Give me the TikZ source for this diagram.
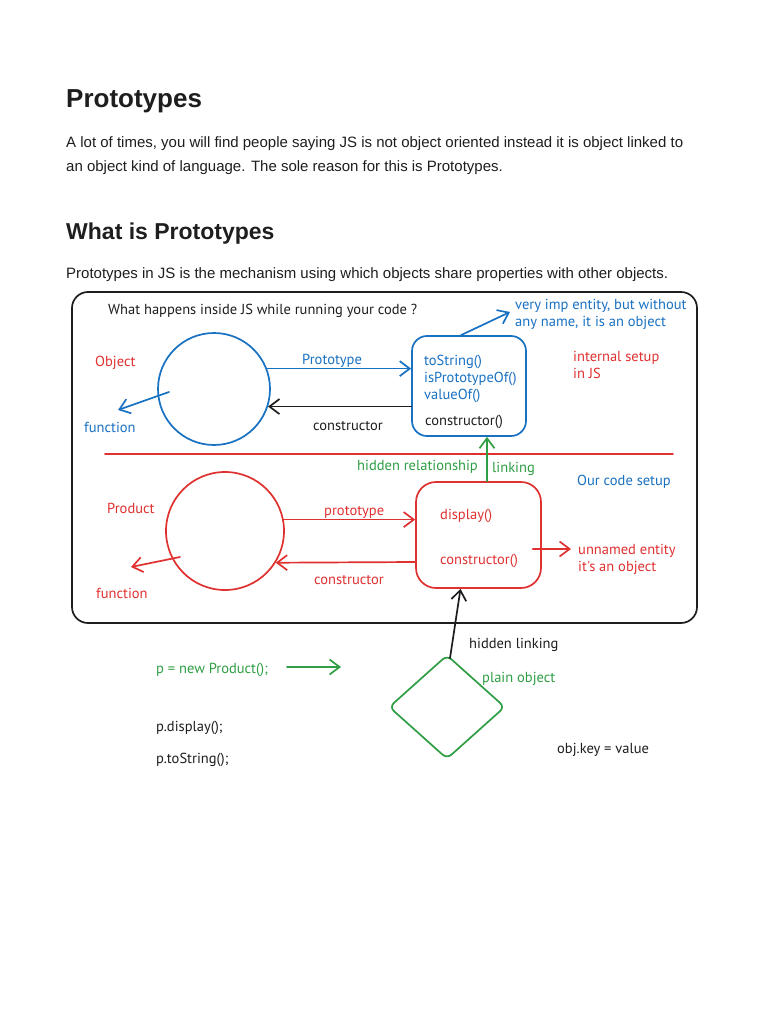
\documentclass[tikz,border=0pt]{standalone}
\usepackage{fontspec}
\setmainfont{Liberation Sans}
\newfontfamily\hand{PT Sans}
\usetikzlibrary{arrows.meta,shapes.geometric,calc}
\definecolor{exblue}{HTML}{1971C2}
\definecolor{exred}{HTML}{E03131}
\definecolor{exgreen}{HTML}{2F9E44}
\definecolor{exblack}{HTML}{1E1E1E}
\begin{document}
\begin{tikzpicture}[x=1pt,y=-1pt,
  txt/.style={anchor=base west,inner sep=0pt,font=\fontsize{15}{18}\selectfont,text=exblack},
  lbl/.style={anchor=west,inner sep=0pt,font=\hand\fontsize{14.5}{17}\selectfont,align=left},
  sk/.style={line width=1.7pt,line cap=round,line join=round},
  arr/.style={sk,-{Straight Barb[length=10pt,width=15pt,line width=1.7pt]}}]
\useasboundingbox[fill=white] (0,0) rectangle (768,1024);

% page text
\node[txt,font=\bfseries\fontsize{26}{30}\selectfont] (title) at (66,108) {Prototypes};
\node[txt] (p1) at (66,148) {A lot of times, you will find people saying JS is not object oriented instead it is object linked to};
\node[txt] (p2) at (66,172) {an object kind of language. The sole reason for this is Prototypes.};
\node[txt,font=\bfseries\fontsize{23}{27}\selectfont] (h2) at (66,240) {What is Prototypes};
\node[txt] (p3) at (66,278) {Prototypes in JS is the mechanism using which objects share properties with other objects.};

% frame
\draw[sk,exblack,rounded corners=16] (72,292) rectangle (697,623);
\node[lbl,text=exblack] (what) at (108,311) {What happens inside JS while running your code ?};

% upper part
\node[circle,draw=exblue,sk,minimum size=112,inner sep=0pt] (objc) at (214,389) {};
\node[lbl,text=exred] (objl) at (95,363) {Object};
\node[lbl,text=exblue] (fun1) at (84,427) {function};
\coordinate (f1s) at ($(objc.center)+(-45,3)$);
\coordinate (f1e) at (118,410);
\draw[arr,exblue] (f1s) -- (f1e);

\node[draw=exblue,sk,rounded corners=15,minimum width=114,minimum height=100,inner sep=0pt] (pbox) at (469,386) {};
\node[lbl,text=exblue] (ts) at (424,362) {toString()};
\node[lbl,text=exblue] (ip) at (424,379) {isPrototypeOf()};
\node[lbl,text=exblue] (vo) at (424,396) {valueOf()};
\node[lbl,text=exblack] (co1) at (425,422) {constructor()};

\draw[arr,exblue] (objc.21) -- (objc.21 -| pbox.west);
\node[lbl,text=exblue] (protl) at (302,361) {Prototype};
\draw[arr,exblack] (pbox.west |- objc.-18) -- (objc.-18);
\node[lbl,text=exblack] (cons1) at (313,426) {constructor};

\node[lbl,text=exblue,anchor=north west] (vimp) at (515,299) {very imp entity, but without\\any name, it is an object};
\coordinate (vs) at ($(pbox.north)+(-8,0)$);
\draw[arr,exblue] (vs) -- ($(vimp.north west)+(-5,13)$);
\node[lbl,text=exred,anchor=north west] (intl) at (573,351) {internal setup\\in JS};

\draw[sk,exred] (105,454) -- (673,454);

% lower part
\node[draw=exred,sk,rounded corners=20,minimum width=125,minimum height=106,inner sep=0pt] (rbox) at (478.5,535) {};
\node[lbl,text=exred] (disp) at (440,516) {display()};
\node[lbl,text=exred] (co2) at (440,561) {constructor()};

\coordinate (g1) at ($(rbox.north)+(8.5,0)$);
\draw[arr,exgreen] (g1) -- (g1 |- pbox.south);
\node[lbl,text=exgreen,anchor=east] (hrel) at (478,467) {hidden relationship};
\node[lbl,text=exgreen] (link) at (492,469) {linking};
\node[lbl,text=exblue] (ours) at (577,482) {Our code setup};

\node[circle,draw=exred,sk,minimum size=118,inner sep=0pt] (rcirc) at (225,531) {};
\node[lbl,text=exred] (prodl) at (107,508) {Product};
\node[lbl,text=exred] (fun2) at (96,593) {function};
\coordinate (f2s) at ($(rcirc.center)+(-45,26)$);
\coordinate (f2e) at (131,567);
\draw[arr,exred] (f2s) -- (f2e);

\draw[arr,exred] (rcirc.11) -- (rcirc.11 -| rbox.west);
\node[lbl,text=exred] (protl2) at (324,512) {prototype};
\draw[arr,exred] (rbox.west |- 0,562) -- (rcirc.-32);
\node[lbl,text=exred] (cons2) at (314,580) {constructor};

\coordinate (us) at ($(rbox.east)+(-9,14)$);
\node[lbl,text=exred,anchor=north west] (unn) at (578,544) {unnamed entity\\it's an object};
\draw[arr,exred] (us) -- ($(us -| unn.west)+(-7,0)$);

% below frame
\node[diamond,draw=exgreen,sk,rounded corners=6,minimum width=116,minimum height=104,inner sep=0pt,aspect=1.12] (dia) at (447,707) {};
\coordinate (rb) at ($(rbox.south)+(-18,0)$);
\draw[arr,exblack] ($(dia.north)+(3,4)$) -- (rb);
\node[lbl,text=exblack] (hlink) at (469,645) {hidden linking};
\node[lbl,text=exgreen] (plain) at (482,679) {plain object};

\node[lbl,text=exgreen] (newp) at (156,670) {p = new Product();};
\coordinate (na) at (341,667);
\draw[arr,exgreen] (287,667) -- (na);
\node[lbl,text=exblack] (pd) at (156,728) {p.display();};
\node[lbl,text=exblack] (pt) at (156,760) {p.toString();};
\node[lbl,text=exblack] (okv) at (557,750) {obj.key = value};
\end{tikzpicture}
\end{document}
